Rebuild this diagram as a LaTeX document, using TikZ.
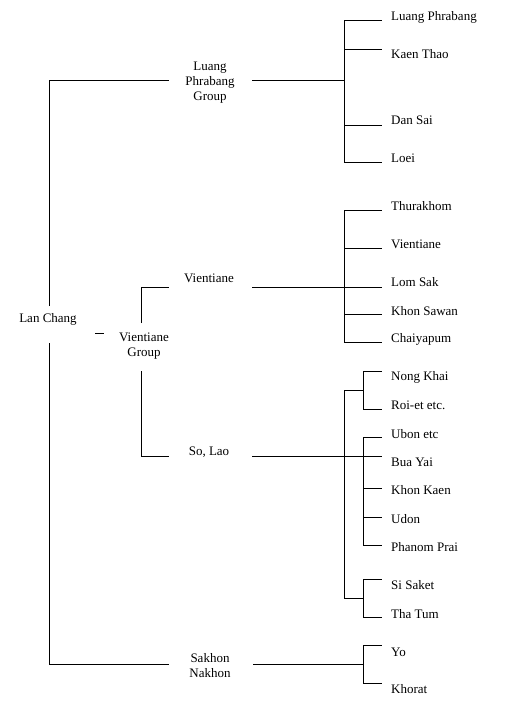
\documentclass[tikz,border=0pt]{standalone}
\usepackage{fontspec}
\setmainfont{Liberation Serif}
\begin{document}
\begin{tikzpicture}[x=1pt,y=-1pt,
  conn/.style={draw=black, line width=1pt},
  txt/.style={inner sep=0pt, align=center, yshift=-1.5pt, font=\fontsize{13}{15}\selectfont},
  leaf/.style={txt, anchor=west}]
\useasboundingbox (0,0) rectangle (532,704);

% ---------- root ----------
\node[txt] (lan) at (48,318) {Lan Chang};
\coordinate (lanT) at (49,306);
\coordinate (lanB) at (49,343);
\coordinate (c1) at (49,80);
\coordinate (c4) at (49,664);
\coordinate (d1) at (95,333);
\coordinate (d2) at (104,333);

% ---------- groups ----------
\node[txt] (lpg) at (210,81) {Luang\\Phrabang\\Group};
\coordinate (lpgW) at (169,80);
\coordinate (lpgE) at (252,80);
\coordinate (b1) at (344,80);

\node[txt] (vg) at (144,345) {Vientiane\\Group};
\coordinate (vgT) at (141,323);
\coordinate (vgB) at (141,371);

\node[txt] (vt) at (209,277) {Vientiane};
\coordinate (vtW) at (169,287);
\coordinate (vtE) at (252,287);
\coordinate (b2) at (344,287);

\node[txt] (sl) at (209,451) {So, Lao};
\coordinate (slW) at (169,456);
\coordinate (slE) at (252,456);
\coordinate (s0) at (344,456);
\coordinate (s1) at (363,390);
\coordinate (s2) at (363,456);
\coordinate (s3) at (363,598);

\node[txt] (sn) at (210,664) {Sakhon\\Nakhon};
\coordinate (snW) at (169,664);
\coordinate (snE) at (253,664);
\coordinate (s4) at (363,664);

% ---------- leaves ----------
\newcommand{\leafnode}[4]{%
  \coordinate (#1-e) at (382,#2);
  \node[leaf] (#1) at (391,#3) {#4};}
\leafnode{lp}{20}{16}{Luang Phrabang}
\leafnode{kt}{49}{53}{Kaen Thao}
\leafnode{ds}{125}{119}{Dan Sai}
\leafnode{lo}{162}{157}{Loei}
\leafnode{th}{210}{205}{Thurakhom}
\leafnode{vi}{248}{243}{Vientiane}
\leafnode{ls}{287}{281}{Lom Sak}
\leafnode{ks}{314}{310}{Khon Sawan}
\leafnode{cy}{342}{338}{Chaiyapum}
\leafnode{nk}{371}{376}{Nong Khai}
\leafnode{re}{409}{404}{Roi-et etc.}
\leafnode{ub}{437}{433}{Ubon etc}
\leafnode{by}{456}{461}{Bua Yai}
\leafnode{kk}{488}{489}{Khon Kaen}
\leafnode{ud}{517}{518}{Udon}
\leafnode{pp}{545}{546}{Phanom Prai}
\leafnode{ss}{579}{584}{Si Saket}
\leafnode{tt}{617}{613}{Tha Tum}
\leafnode{yo}{645}{651}{Yo}
\leafnode{kh}{683}{688}{Khorat}

% ---------- connectors ----------
\draw[conn] (lanT) -- (c1) -- (lpgW);
\draw[conn] (lanB) -- (c4) -- (snW);
\draw[conn] (d1) -- (d2);
\draw[conn] (lpgE) -- (b1);
\draw[conn] (vgT) |- (vtW);
\draw[conn] (vgB) |- (slW);
\draw[conn] (vtE) -- (b2);
\draw[conn] (slE) -- (s2);
\draw[conn] (snE) -- (s4);
\draw[conn] (s0) |- (s1);
\draw[conn] (s0) |- (s3);
\foreach \l in {lp,kt,ds,lo} \draw[conn] (b1) |- (\l-e);
\foreach \l in {th,vi,ls,ks,cy} \draw[conn] (b2) |- (\l-e);
\foreach \l in {nk,re} \draw[conn] (s1) |- (\l-e);
\foreach \l in {ub,by,kk,ud,pp} \draw[conn] (s2) |- (\l-e);
\foreach \l in {ss,tt} \draw[conn] (s3) |- (\l-e);
\foreach \l in {yo,kh} \draw[conn] (s4) |- (\l-e);
\end{tikzpicture}
\end{document}
